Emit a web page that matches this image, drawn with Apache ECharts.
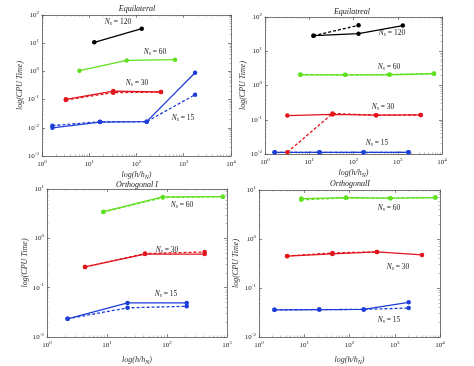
<!DOCTYPE html>
<html><head><meta charset="utf-8">
<script src="https://cdn.jsdelivr.net/npm/echarts@6/dist/echarts.min.js"></script>
<style>html,body{margin:0;padding:0;background:#fff}#c{width:474px;height:366px}</style>
</head><body><div id="c"></div>
<script>
// ---- Data ----
// Panel 1: Equilateral
const p1_x15 = [1.66, 16.9, 164, 1735];
const p1_y15_solid = [0.0100, 0.0160, 0.0165, 0.90];
const p1_y15_dash  = [0.0119, 0.0165, 0.0165, 0.15];
const p1_x30 = [3.2, 32.3, 330];
const p1_y30_solid = [0.102, 0.200, 0.186];
const p1_y30_dash  = [0.097, 0.176, 0.186];
const p1_x60 = [6.2, 62, 653];
const p1_y60_solid = [1.06, 2.45, 2.6];
const p1_x120 = [12.8, 129];
const p1_y120_solid = [10.7, 32.7];
// Panel 2: Equilatreal
const p2_x15 = [1.65, 17, 169, 1750];
const p2_y15_solid = [0.0112, 0.0112, 0.0112, 0.0112];
const p2_y15_dash  = [0.0112, 0.0112, 0.0112, 0.0112];
const p2_x30 = [3.2, 33.6, 325, 3300];
const p2_y30_solid = [0.132, 0.143, 0.136, 0.138];
const p2_y30_dash  = [0.0112, 0.152, 0.136, 0.138];
const p2_x60 = [6.3, 65, 650, 6600];
const p2_y60_solid = [2.05, 2.05, 2.05, 2.2];
const p2_y60_dash  = [2.1, 2.05, 2.1, 2.25];
const p2_x120 = [12.5, 130, 1300];
const p2_y120_solid = [28.5, 32.6, 56];
const p2_x120_dash = [12.5, 130];
const p2_y120_dash = [28.5, 57];
// Panel 3: Orthogonal I
const p3_x15 = [2.2, 22, 213];
const p3_y15_solid = [0.0234, 0.049, 0.049];
const p3_y15_dash  = [0.0234, 0.039, 0.042];
const p3_x30 = [4.3, 43, 425];
const p3_y30_solid = [0.263, 0.48, 0.48];
const p3_y30_dash  = [0.263, 0.49, 0.53];
const p3_x60 = [8.7, 85, 850];
const p3_y60_solid = [3.47, 6.9, 7.0];
const p3_y60_dash  = [3.4, 6.7, 7.0];
// Panel 4: OrthogonalI
const p4_x15 = [2.2, 21.5, 206, 2030];
const p4_y15_solid = [0.0358, 0.0362, 0.0366, 0.051];
const p4_y15_dash  = [0.0358, 0.0362, 0.0366, 0.039];
const p4_x30 = [4.2, 42, 405, 4000];
const p4_y30_solid = [0.446, 0.497, 0.545, 0.474];
const p4_y30_dash  = [0.45, 0.52, 0.545];
const p4_x60 = [8.6, 84, 800, 7900];
const p4_y60_solid = [6.67, 7.0, 6.8, 7.0];
const p4_y60_dash  = [6.3, 6.9, 6.8, 7.0];

const titles = ['Equilateral', 'Equilatreal', 'Orthogonal I', 'OrthogonalI'];
const xRanges = [[1, 1e4], [1, 1e4], [1, 1e3], [1, 1e4]];
const yRanges = [[1e-3, 1e2], [1e-2, 1e2], [1e-2, 1e1], [1e-2, 1e1]];

// ---- Layout / style ----
const grids = [
  {left: 42, top: 15, width: 189, height: 141},
  {left: 265, top: 17, width: 177, height: 137},
  {left: 47, top: 189, width: 180, height: 148},
  {left: 259, top: 190, width: 181, height: 148}
];
const C = {k: '#000000', g: '#5fe01e', r: '#e3141c', b: '#1d3dd8'};
const FONT = 'Liberation Serif';

function tickFmt(v) {
  const e = Math.round(Math.log10(v));
  return '{b|10}{s|' + e + '}';
}
const tickRich = {
  b: {fontFamily: FONT, fontSize: 7, color: '#222'},
  s: {fontFamily: FONT, fontSize: 5, color: '#222', padding: [0, 0, 5, 0]}
};

const xAxes = [], yAxes = [];
grids.forEach((g, i) => {
  const common = {type: 'log', logBase: 10, gridIndex: i,
    axisLine: {show: true, lineStyle: {color: '#555', width: 0.8}},
    axisTick: {show: true, inside: true, length: 3, lineStyle: {color: '#555', width: 0.7}},
    minorTick: {show: true, splitNumber: 9, length: 1.5, lineStyle: {color: '#777', width: 0.5}},
    splitLine: {show: false}};
  xAxes.push(Object.assign({}, common, {position: 'bottom', min: xRanges[i][0], max: xRanges[i][1],
    axisLabel: {formatter: tickFmt, rich: tickRich, margin: 3},
    name: '{t|log(h/h}{u|N}{t|)}', nameLocation: 'middle', nameGap: (i < 2 ? 14 : 18),
    nameTextStyle: {rich: {t: {fontFamily: FONT, fontStyle: 'italic', fontSize: 8, color: '#333'},
      u: {fontFamily: FONT, fontStyle: 'italic', fontSize: 6, color: '#333', padding: [4, 0, 0, 0]}}}}));
  xAxes.push(Object.assign({}, common, {position: 'top', min: xRanges[i][0], max: xRanges[i][1],
    axisLabel: {show: false}}));
  yAxes.push(Object.assign({}, common, {position: 'left', min: yRanges[i][0], max: yRanges[i][1],
    axisLabel: {formatter: tickFmt, rich: tickRich, margin: 3},
    name: 'log(CPU Time)', nameLocation: 'middle', nameGap: (i === 0 ? 16 : i === 1 ? 18 : i === 2 ? 18 : 19),
    nameTextStyle: {fontFamily: FONT, fontStyle: 'italic', fontSize: 8, color: '#333'}}));
  yAxes.push(Object.assign({}, common, {position: 'right', min: yRanges[i][0], max: yRanges[i][1],
    axisLabel: {show: false}}));
});

function line(gi, xs, ys, color, dashed) {
  return {type: 'line', xAxisIndex: gi * 2, yAxisIndex: gi * 2,
    data: ys.map((y, k) => [xs[k], y]),
    symbol: 'circle', symbolSize: 4.5, showSymbol: true,
    lineStyle: {color: color, width: 1.3, type: dashed ? [3, 2] : 'solid'},
    itemStyle: {color: color}, silent: true, animation: false, z: dashed ? 3 : 2};
}

const series = [
  line(0, p1_x15, p1_y15_solid, C.b, false), line(0, p1_x15, p1_y15_dash, C.b, true),
  line(0, p1_x30, p1_y30_solid, C.r, false), line(0, p1_x30, p1_y30_dash, C.r, true),
  line(0, p1_x60, p1_y60_solid, C.g, false),
  line(0, p1_x120, p1_y120_solid, C.k, false),

  line(1, p2_x15, p2_y15_solid, C.b, false), line(1, p2_x15, p2_y15_dash, C.b, true),
  line(1, p2_x30, p2_y30_solid, C.r, false), line(1, p2_x30, p2_y30_dash, C.r, true),
  line(1, p2_x60, p2_y60_solid, C.g, false), line(1, p2_x60, p2_y60_dash, C.g, true),
  line(1, p2_x120, p2_y120_solid, C.k, false), line(1, p2_x120_dash, p2_y120_dash, C.k, true),

  line(2, p3_x15, p3_y15_solid, C.b, false), line(2, p3_x15, p3_y15_dash, C.b, true),
  line(2, p3_x30, p3_y30_solid, C.r, false), line(2, p3_x30, p3_y30_dash, C.r, true),
  line(2, p3_x60, p3_y60_solid, C.g, false), line(2, p3_x60, p3_y60_dash, C.g, true),

  line(3, p4_x15, p4_y15_solid, C.b, false), line(3, p4_x15, p4_y15_dash, C.b, true),
  line(3, p4_x30, p4_y30_solid, C.r, false), line(3, p4_x30, p4_y30_dash, C.r, true),
  line(3, p4_x60, p4_y60_solid, C.g, false), line(3, p4_x60, p4_y60_dash, C.g, true)
];

// annotations: [N_s value, px, py]
const notes = [
  ['120', 118, 22], ['60', 155, 52], ['30', 137, 83], ['15', 183, 118],
  ['120', 392, 33], ['60', 389, 67], ['30', 383, 107], ['15', 377, 143],
  ['60', 182, 205], ['30', 167, 250], ['15', 166, 294],
  ['60', 389, 208], ['30', 398, 267], ['15', 389, 320]
];
const noteRich = {
  n: {fontFamily: FONT, fontStyle: 'italic', fontSize: 7.5, fill: '#222'},
  s: {fontFamily: FONT, fontStyle: 'italic', fontSize: 5.5, fill: '#222', padding: [4, 0, 0, 0]},
  e: {fontFamily: FONT, fontSize: 7.5, fill: '#222'}
};
const graphic = notes.map(n => ({type: 'text', x: n[1], y: n[2], silent: true,
  style: {text: '{n|N}{s|s}{e| = ' + n[0] + '}', rich: noteRich, align: 'center', verticalAlign: 'middle'}}));
const titlePos = [[137, 9], [352, 12], [137, 185], [350, 184]];
titles.forEach((t, i) => graphic.push({type: 'text', x: titlePos[i][0], y: titlePos[i][1], silent: true,
  style: {text: t, fontFamily: FONT, fontStyle: 'italic', fontSize: 8, fill: '#222', align: 'center', verticalAlign: 'middle'}}));

const chart = echarts.init(document.getElementById('c'), null, {renderer: 'canvas'});
chart.setOption({
  animation: false,
  backgroundColor: '#ffffff',
  grid: grids.map(g => Object.assign({containLabel: false}, g)),
  xAxis: xAxes, yAxis: yAxes, series: series, graphic: graphic
});
</script></body></html>
